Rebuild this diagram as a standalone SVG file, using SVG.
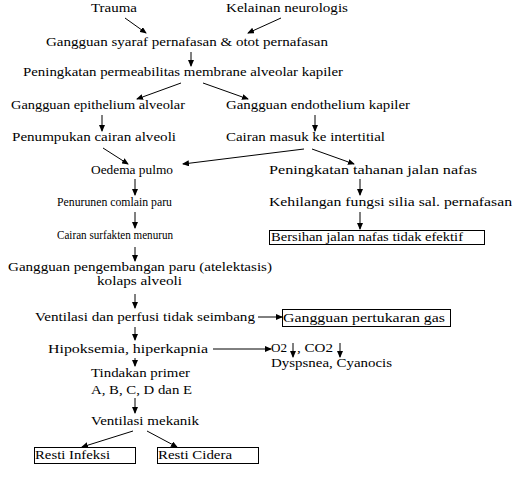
<svg xmlns="http://www.w3.org/2000/svg" width="514" height="480" viewBox="0 0 514 480">
<defs>
<marker id="ah" markerWidth="7" markerHeight="6" refX="6" refY="3" orient="auto" markerUnits="userSpaceOnUse">
<path d="M0,0 L7,3 L0,6 Z" fill="#000"/>
</marker>
<style>
.c line{stroke:#000;stroke-width:1;marker-end:url(#ah)}
.b{fill:#fff;stroke:#000;stroke-width:1}
</style>
</defs>
<rect width="514" height="480" fill="#fff"/>
<g class="c" id="connectors">
<line x1="125" y1="18" x2="146" y2="33"/>
<line x1="281" y1="18" x2="248" y2="33"/>
<line x1="191" y1="52" x2="191" y2="66"/>
<line x1="181" y1="83" x2="137" y2="99"/>
<line x1="203" y1="83" x2="248" y2="99"/>
<line x1="102" y1="115" x2="102" y2="131"/>
<line x1="315" y1="115" x2="315" y2="131"/>
<line x1="103" y1="148" x2="128" y2="164"/>
<line x1="304" y1="149" x2="183" y2="164"/>
<line x1="312" y1="149" x2="354" y2="164"/>
<line x1="135" y1="179" x2="135" y2="195"/>
<line x1="360" y1="179" x2="360" y2="195"/>
<line x1="135" y1="212" x2="135" y2="228"/>
<line x1="360" y1="212" x2="360" y2="229"/>
<line x1="135" y1="247" x2="135" y2="261"/>
<line x1="135" y1="294" x2="135" y2="308"/>
<line x1="258" y1="317" x2="282" y2="317"/>
<line x1="135" y1="327" x2="135" y2="340"/>
<line x1="213" y1="349" x2="271" y2="349"/>
<line x1="293" y1="343" x2="293" y2="357"/>
<line x1="340" y1="343" x2="340" y2="357"/>
<line x1="135" y1="358" x2="135" y2="366"/>
<line x1="135" y1="398" x2="135" y2="413"/>
<line x1="133" y1="431" x2="82" y2="447"/>
<line x1="147" y1="431" x2="177" y2="447"/>
</g>
<g style="font-family:'Liberation Serif','DejaVu Serif',serif;font-size:12px" fill="#000">
<g id="n1"><text x="91" y="12" textLength="46" lengthAdjust="spacingAndGlyphs">Trauma</text></g>
<g id="n2"><text x="226" y="12" textLength="122" lengthAdjust="spacingAndGlyphs">Kelainan neurologis</text></g>
<g id="n3"><text x="46" y="46" textLength="282" lengthAdjust="spacingAndGlyphs">Gangguan syaraf pernafasan &amp; otot pernafasan</text></g>
<g id="n4"><text x="23" y="76" textLength="320" lengthAdjust="spacingAndGlyphs">Peningkatan permeabilitas membrane alveolar kapiler</text></g>
<g id="n5"><text x="11" y="109" textLength="174" lengthAdjust="spacingAndGlyphs">Gangguan epithelium alveolar</text></g>
<g id="n6"><text x="226" y="109" textLength="184" lengthAdjust="spacingAndGlyphs">Gangguan endothelium kapiler</text></g>
<g id="n7"><text x="12" y="141" textLength="164" lengthAdjust="spacingAndGlyphs">Penumpukan cairan alveoli</text></g>
<g id="n8"><text x="226" y="141" textLength="159" lengthAdjust="spacingAndGlyphs">Cairan masuk ke intertitial</text></g>
<g id="n9"><text x="91" y="174" textLength="82" lengthAdjust="spacingAndGlyphs">Oedema pulmo</text></g>
<g id="n10"><text x="269" y="174" textLength="208" lengthAdjust="spacingAndGlyphs">Peningkatan tahanan jalan nafas</text></g>
<g id="n11"><text x="57" y="206" textLength="115" lengthAdjust="spacingAndGlyphs">Penurunen comlain paru</text></g>
<g id="n12"><text x="269" y="206" textLength="243" lengthAdjust="spacingAndGlyphs">Kehilangan fungsi silia sal. pernafasan</text></g>
<g id="n13"><text x="57" y="239" textLength="116" lengthAdjust="spacingAndGlyphs">Cairan surfakten menurun</text></g>
<g id="n14"><rect class="b" x="269.5" y="230.5" width="215" height="14"/><text x="271" y="241" textLength="192" lengthAdjust="spacingAndGlyphs">Bersihan jalan nafas tidak efektif</text></g>
<g id="n15"><text x="8" y="271" textLength="264" lengthAdjust="spacingAndGlyphs">Gangguan pengembangan paru (atelektasis)</text><text x="97" y="285" textLength="85" lengthAdjust="spacingAndGlyphs">kolaps alveoli</text></g>
<g id="n16"><text x="35" y="321" textLength="220" lengthAdjust="spacingAndGlyphs">Ventilasi dan perfusi tidak seimbang</text></g>
<g id="n17"><rect class="b" x="282.5" y="309.5" width="168" height="17"/><text x="283" y="322" textLength="162" lengthAdjust="spacingAndGlyphs">Gangguan pertukaran gas</text></g>
<g id="n18"><text x="48" y="353" textLength="160" lengthAdjust="spacingAndGlyphs">Hipoksemia, hiperkapnia</text></g>
<g id="n19"><text x="271" y="352" textLength="16" lengthAdjust="spacingAndGlyphs">O2</text><text x="297" y="352" textLength="36" lengthAdjust="spacingAndGlyphs">, CO2</text><text x="271" y="367" textLength="121" lengthAdjust="spacingAndGlyphs">Dyspsnea, Cyanocis</text></g>
<g id="n20"><text x="91" y="377" textLength="99" lengthAdjust="spacingAndGlyphs">Tindakan primer</text><text x="91" y="394" textLength="101" lengthAdjust="spacingAndGlyphs">A, B, C, D dan E</text></g>
<g id="n21"><text x="91" y="425" textLength="108" lengthAdjust="spacingAndGlyphs">Ventilasi mekanik</text></g>
<g id="n22"><rect class="b" x="34.5" y="447.5" width="101" height="16"/><text x="35" y="459" textLength="75" lengthAdjust="spacingAndGlyphs">Resti Infeksi</text></g>
<g id="n23"><rect class="b" x="157.5" y="447.5" width="101" height="16"/><text x="158" y="459" textLength="74" lengthAdjust="spacingAndGlyphs">Resti Cidera</text></g>
</g>
</svg>
